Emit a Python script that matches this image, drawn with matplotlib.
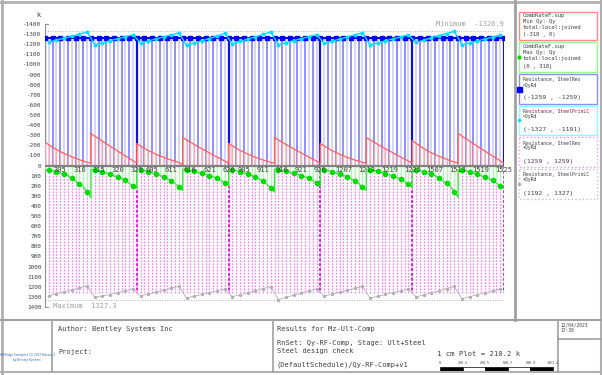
import numpy as np
import matplotlib.pyplot as plt
from matplotlib.patches import Rectangle

# shear Qy envelopes, 5 elements x 2 spans, 13 stations per span
min_qy = [
    [-231, -205, -180, -158, -138, -119, -102, -86, -71, -57, -44, -33, -23],
    [-317, -291, -266, -241, -216, -192, -167, -143, -119, -95, -72, -47, -23],
    [-218, -193, -170, -149, -130, -112, -96, -81, -67, -54, -42, -30, -8],
    [-277, -254, -231, -209, -187, -166, -145, -124, -104, -84, -64, -44, -24],
    [-218, -194, -171, -150, -131, -113, -97, -82, -68, -55, -43, -32, -22],
    [-277, -253, -230, -208, -186, -165, -144, -123, -103, -83, -63, -44, -24],
    [-218, -193, -170, -149, -130, -112, -96, -81, -67, -54, -42, -32, -22],
    [-277, -254, -231, -209, -187, -166, -145, -124, -104, -84, -64, -44, -24],
    [-248, -220, -193, -168, -146, -126, -108, -91, -76, -61, -47, -35, -23],
    [-318, -292, -266, -241, -216, -191, -167, -143, -119, -95, -71, -47, -23],
]
max_qy = [
    [40, 45, 50, 62, 75, 88, 99, 126, 155, 180, 208, 262, 318],
    [40, 46, 52, 63, 75, 88, 100, 113, 127, 148, 175, 200, 228],
    [38, 44, 50, 60, 72, 84, 96, 112, 128, 150, 178, 212, 248],
    [36, 42, 48, 57, 67, 78, 88, 100, 112, 128, 148, 172, 198],
    [38, 44, 50, 61, 73, 86, 98, 115, 133, 156, 185, 224, 264],
    [36, 42, 48, 57, 67, 78, 88, 100, 112, 128, 148, 172, 198],
    [38, 44, 50, 60, 72, 84, 96, 112, 128, 150, 178, 212, 248],
    [37, 43, 49, 59, 70, 81, 92, 105, 118, 136, 158, 186, 215],
    [40, 45, 50, 62, 75, 88, 99, 125, 153, 178, 206, 260, 314],
    [40, 46, 52, 63, 75, 88, 100, 113, 127, 148, 175, 200, 228],
]
# principal LC resistance, only at odd stations of each span
prin_neg = [
    [-1221, -1241, -1260, -1279, -1300, -1320],
    [-1195, -1214, -1234, -1254, -1274, -1294],
    [-1212, -1232, -1252, -1272, -1292, -1312],
    [-1191, -1213, -1234, -1255, -1282, -1307],
    [-1205, -1228, -1250, -1273, -1297, -1320],
    [-1196, -1215, -1235, -1255, -1275, -1294],
    [-1208, -1229, -1250, -1272, -1293, -1314],
    [-1193, -1213, -1233, -1253, -1273, -1293],
    [-1218, -1240, -1262, -1284, -1306, -1327],
    [-1195, -1213, -1232, -1251, -1270, -1287],
]
prin_pos = [
    [1287, 1268, 1250, 1231, 1211, 1192],
    [1304, 1290, 1277, 1258, 1238, 1221],
    [1290, 1272, 1253, 1234, 1214, 1196],
    [1310, 1293, 1276, 1258, 1240, 1222],
    [1298, 1278, 1258, 1238, 1218, 1198],
    [1327, 1305, 1283, 1262, 1241, 1220],
    [1293, 1274, 1255, 1236, 1216, 1197],
    [1312, 1294, 1276, 1258, 1240, 1222],
    [1300, 1280, 1260, 1240, 1218, 1196],
    [1316, 1297, 1278, 1260, 1241, 1223],
]
res_neg = -1259
res_pos = 1259
q_min = -1326.9
q_max = 1327.3

x_labels = ["305", "310", "315", "320", "325", "605", "611", "616", "621", "626",
            "905", "911", "916", "921", "926", "1207", "1213", "1219", "1225",
            "1507", "1513", "1519", "1525"]
x_label_pos = [4, 9, 14, 19, 24, 28, 33, 38, 43, 48, 52, 57, 62, 67, 72,
               78, 84, 90, 96, 102, 108, 114, 120]
y_ticks = list(range(-1400, 1401, 100))

W, H = 602, 375
mono = "DejaVu Sans Mono"
txt = "#404040"

fig = plt.figure(figsize=(W / 100, H / 100), dpi=100)
fig.patch.set_facecolor("white")

# plot area in pixels
px0, px1, py0, py1 = 45, 504, 24, 307
ax = fig.add_axes([px0 / W, 1 - py1 / H, (px1 - px0) / W, (py1 - py0) / H])
ax.patch.set_alpha(0)

span = 12
n_span = len(min_qy)
nodes = np.arange(n_span * span + 1)
edges = np.arange(0, n_span * span + 1, 2 * span)
xs = np.concatenate([s * span + np.arange(13) for s in range(n_span)])
xodd = np.concatenate([s * span + np.arange(1, 12, 2) for s in range(n_span)])
mins = np.concatenate(min_qy)
maxs = np.concatenate(max_qy)

# resistance bars
blue_cols = ["#7c7cff" if i % 2 == 0 else "#cdcdff" for i in nodes]
ax.vlines(nodes, res_neg, 0, colors=blue_cols, lw=1.2, zorder=1)
ax.vlines(nodes, 0, res_pos, colors="#ff80ff", lw=0.9, linestyles=(0, (1.5, 1)), zorder=1)
ax.vlines(edges, res_neg, 0, colors="#1010e0", lw=1.6, zorder=2)
ax.vlines(edges, 0, res_pos, colors="#e020e0", lw=1.4, linestyles=(0, (1.5, 1)), zorder=2)

# envelope hatching and lines
ax.vlines(xs, mins, 0, colors="#ffa8a8", lw=0.9, zorder=3)
ax.plot(xs, mins, color="#ff6060", lw=0.9, zorder=4)
ax.vlines(xs, 0, maxs, colors="#a8ffa8", lw=0.9, zorder=3)
ax.plot(xs, maxs, color="#40e040", lw=0.9, zorder=4)
ax.plot(xodd, np.concatenate([np.array(m)[1::2] for m in max_qy]), "o",
        color="#00dd00", ms=3, zorder=5)

ax.hlines(0, 0, nodes[-1], color="#808080", lw=1.6, zorder=4)
ax.hlines(res_neg, 0, nodes[-1], color="#0000ff", lw=1.5, zorder=5)
ax.plot(nodes[::2], [res_neg] * len(nodes[::2]), "s", color="#0000ff", ms=3.5, zorder=6)

ax.plot(xodd, np.concatenate(prin_neg), color="#00e0ff", lw=1.0, marker="o", ms=1.8, zorder=6)
ax.plot(xodd, np.concatenate(prin_pos), color="#b0b0b0", lw=0.6, marker="o", ms=1.4, zorder=6)

ax.hlines([q_min, q_max], 0, nodes[-1], color="#b0b0b0", lw=0.7, linestyles=(0, (1, 1.5)))
ax.text(nodes[-1], q_min - 45, f"Minimum  {q_min}", ha="right", va="bottom",
        color="#a0a0a0", fontsize=5, family=mono, clip_on=False)
ax.text(2, 1390, f"Maximum  {q_max}", ha="left", va="center",
        color="#a0a0a0", fontsize=5, family=mono, clip_on=False)

for p, lab in zip(x_label_pos, x_labels):
    ax.text(p, 48, lab, ha="center", va="center", fontsize=5, color=txt, family=mono, zorder=7)

ax.set_xlim(0, nodes[-1])
ax.set_ylim(1400, -1400)
ax.set_xticks([])
ax.set_yticks(y_ticks)
ax.set_yticklabels([str(v) for v in y_ticks], family=mono, fontsize=4.3, color=txt)
ax.tick_params(axis="y", length=0, pad=2.5)
for s in ["top", "right", "bottom"]:
    ax.spines[s].set_visible(False)
ax.spines["left"].set_color("#909090")
ax.spines["left"].set_linewidth(0.8)
ax.plot([0, 0.8], [-1400, -1400], color="#909090", lw=0.8, clip_on=False)
ax.plot([0, 0.8], [1400, 1400], color="#909090", lw=0.8, clip_on=False)

# page frame, legend and title block in pixel coordinates
fa = fig.add_axes([0, 0, 1, 1], zorder=10)
fa.set_xlim(0, W)
fa.set_ylim(H, 0)
fa.axis("off")
fa.patch.set_alpha(0)
fa.text(38, 15, "k", fontsize=5, family=mono, color=txt, ha="center", va="center")

fr = "#b0b0b0"
fa.plot([0, W], [1.5, 1.5], color=fr, lw=2)
fa.plot([1.5, 1.5], [0, H], color=fr, lw=2)
fa.plot([600.5, 600.5], [0, H], color=fr, lw=1.5)
fa.plot([0, W], [372, 372], color=fr, lw=1.5)
fa.plot([515, 515], [0, 320], color="#a0a0a0", lw=2)
fa.plot([0, W], [320, 320], color="#a0a0a0", lw=1.5)
for xv in [52, 273, 558]:
    fa.plot([xv, xv], [320, 372], color="#a0a0a0", lw=1.2)
fa.plot([558, W], [339, 339], color="#a0a0a0", lw=1.2)

boxes = [
    (11.5, 40, "#ff8a8a", "-", ["CombRateF.sup", "Min Qy: Qy", "total:local:joined"], "(-318 , 0)", None),
    (42, 72, "#8cff8c", "-", ["CombRateF.sup", "Max Qy: Qy", "total:local:joined"], "(0 , 318)", ("o", "#00dd00", 2)),
    (74, 103.5, "#8c8cff", "-", ["Resistance, SteelRes", "=QyRd"], "(-1259 , -1259)", ("s", "#0000ff", 3.6)),
    (105.5, 135, "#8cffff", "-", ["Resistance, SteelPrinLC", "=QyRd"], "(-1327 , -1191)", ("o", "#00e0ff", 1.5)),
    (137, 167, "#ff8cff", ":", ["Resistance, SteelRes", "+QyRd"], "(1259 , 1259)", None),
    (168.5, 199, "#c0c0c0", ":", ["Resistance, SteelPrinLC", "+QyRd"], "(1192 , 1327)", ("o", "#b0b0b0", 1.5)),
]
for top, bot, ec, ls, lines, rng, mk in boxes:
    fa.add_patch(Rectangle((519, top), 78, bot - top, fill=False, ec=ec, lw=1, ls=ls))
    big = lines[0].startswith("Comb")
    fs = 4 if big else 3.5
    step = 6 if big else 5
    y = top + (4.5 if big else 6)
    for ln in lines:
        fa.text(523, y, ln, fontsize=fs, family=mono, color=txt, va="center")
        y += step
    fa.text(523, bot - 5.5, rng, fontsize=4.6 if not big else 4, family=mono, color=txt, va="center")
    if mk:
        fa.plot(519, (top + bot) / 2, mk[0], color=mk[1], ms=mk[2])

fa.text(58, 329, "Author: Bentley Systems Inc", fontsize=5, family=mono, color=txt, va="center")
fa.text(58, 352, "Project:", fontsize=5, family=mono, color=txt, va="center")
fa.text(277, 329, "Results for Mz-Ult-Comp", fontsize=5, family=mono, color=txt, va="center")
fa.text(277, 342.5, "RnSet: Qy-RF-Comp, Stage: Ult+Steel", fontsize=5, family=mono, color=txt, va="center")
fa.text(277, 351.5, "Steel design check", fontsize=5, family=mono, color=txt, va="center")
fa.text(277, 365, "(DefaultSchedule)/Qy-RF-Comp+v1", fontsize=5, family=mono, color=txt, va="center")
fa.text(437, 354, "1 cm Plot = 210.2 k", fontsize=5.2, family=mono, color=txt, va="center")
fa.text(560, 325, "12/04/2023", fontsize=3.3, family=mono, color=txt, va="center")
fa.text(560, 331, "17:39", fontsize=3.3, family=mono, color=txt, va="center")
fa.text(27, 355, "RM Bridge Enterprise (C) 2023 Release 4", fontsize=2, color="#3366cc",
        ha="center", va="center")
fa.text(27, 360, "by Bentley Systems", fontsize=2, color="#3366cc", ha="center", va="center")

# scale bar
scale_vals = ["0", "210.2", "420.5", "630.7", "840.9", "1051.2"]
seg = 22.6
for i in range(5):
    fa.add_patch(Rectangle((440 + i * seg, 367), seg, 3.5, fc="black" if i % 2 == 0 else "white",
                           ec="black", lw=0.5))
for i, v in enumerate(scale_vals):
    fa.text(440 + i * seg, 363.5, v, fontsize=2.4, family=mono, color=txt, ha="center", va="center")

fig.savefig("out.png", dpi=100, facecolor="white")
